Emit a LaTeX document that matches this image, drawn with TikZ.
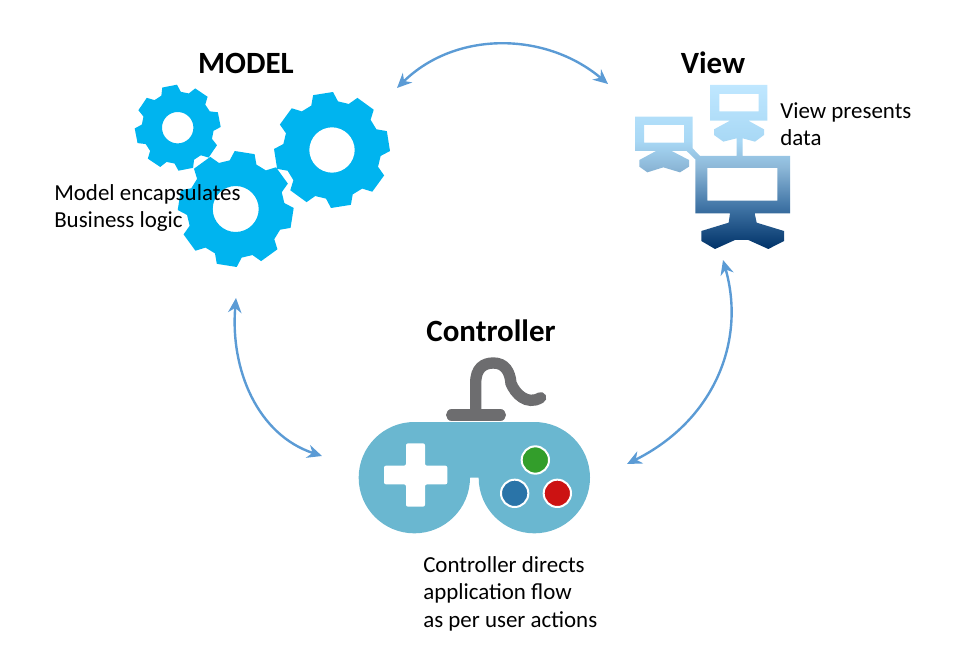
\documentclass[tikz,border=0pt]{standalone}
\usepackage{fontspec}
\setmainfont{Carlito}
\usetikzlibrary{arrows.meta}
\definecolor{gearblue}{HTML}{00B4EF}
\definecolor{arrowblue}{HTML}{5B9BD5}
\definecolor{padblue}{HTML}{6AB7D0}
\definecolor{cablegray}{HTML}{6D6D6F}
\definecolor{montop}{HTML}{BFE7FF}
\definecolor{monlight}{HTML}{A8D8F5}
\definecolor{monmid}{HTML}{8DB8D8}
\definecolor{mondeep}{HTML}{4175A6}
\definecolor{monbot}{HTML}{003268}
\definecolor{btngreen}{HTML}{339E2B}
\definecolor{btnblue}{HTML}{2A74A8}
\definecolor{btnred}{HTML}{CC1212}
\pgfdeclareverticalshading{monshade}{100bp}{color(0bp)=(monbot); color(25bp)=(monbot); color(38bp)=(mondeep); color(50bp)=(monmid); color(58bp)=(monlight); color(75bp)=(montop); color(100bp)=(montop)}
\tikzset{
  title/.style={font=\fontsize{23.2}{28}\selectfont\bfseries,inner sep=0pt},
  body/.style={font=\fontsize{17.2}{20.6}\selectfont,align=left,anchor=north west,inner sep=0pt},
  link/.style={draw=arrowblue,line width=1.8pt,{Stealth[length=11pt,width=10pt]}-{Stealth[length=11pt,width=10pt]}},
  padbutton/.style={draw=white,line width=1.5pt},
  cable/.style={draw=cablegray,line width=8.5pt,line cap=round}
}
\newcommand{\gearat}[6]{%
  \fill[gearblue,even odd rule]
    ({#1+#4*cos(#6-16)},{#2-#4*sin(#6-16)})
    \foreach \k in {0,...,7}{
      -- ({#1+#4*cos(#6+45*\k-16)},{#2-#4*sin(#6+45*\k-16)})
      -- ({#1+#3*cos(#6+45*\k-10)},{#2-#3*sin(#6+45*\k-10)})
      -- ({#1+#3*cos(#6+45*\k+10)},{#2-#3*sin(#6+45*\k+10)})
      -- ({#1+#4*cos(#6+45*\k+16)},{#2-#4*sin(#6+45*\k+16)})
    } -- cycle
    (#1,#2) circle[radius=#5];}
\begin{document}
\begin{tikzpicture}[x=0.75pt,y=-0.75pt]
\useasboundingbox (0,0) rectangle (956,648);
% gears
\gearat{177.7}{127.7}{43}{36}{15.7}{101}
\gearat{332}{150}{58}{49}{22.7}{99}
\gearat{235.7}{209}{58}{49}{23}{81}
% monitors
\begin{scope}[shift={(620,70)},x=0.25pt,y=-0.25pt]
\shade[shading=monshade,even odd rule]
  (270,45) rectangle (442,152) (298,72) rectangle (416,124)
  (330,152) -- (282,178) -- (282,195) -- (310,215) -- (350,205) -- (350,258) -- (368,258) -- (368,205) -- (405,215) -- (432,195) -- (432,178) -- (385,152) -- cycle
  (45,140) rectangle (218,243) (72,165) rectangle (192,218)
  (108,243) -- (58,270) -- (58,290) -- (82,307) -- (130,292) -- (180,307) -- (207,290) -- (207,270) -- (155,243) -- cycle
  (218,235) -- (240,258) -- (226,258) -- (226,268) -- (200,243) -- (218,243) -- cycle
  (226,258) rectangle (510,430) (262,294) rectangle (472,392)
  (330,430) -- (326,458) -- (244,483) -- (244,513) -- (285,537) -- (345,510) -- (385,510) -- (445,537) -- (492,513) -- (492,483) -- (410,458) -- (404,430) -- cycle;
\end{scope}
% controller
\begin{scope}[shift={(350,350)},x=0.25pt,y=-0.25pt]
\draw[cable] (377,195) -- (377,100) .. controls (377,55) and (400,39) .. (430,39) .. controls (465,39) and (480,65) .. (483,100) .. controls (495,130) and (530,168) .. (572,143);
\draw[cable] (305,195) -- (451,195);
\fill[padblue] (360,383) arc[start angle=0,end angle=270,radius=167] -- (553,216) arc[start angle=270,end angle=540,radius=167] -- (386,383) -- cycle;
\fill[white,rounded corners=1.5pt] (168,280) -- (225,280) -- (225,347) -- (292,347) -- (292,403) -- (225,403) -- (225,470) -- (168,470) -- (168,403) -- (102,403) -- (102,347) -- (168,347) -- cycle;
\draw[padbutton,fill=btngreen] (556,330) circle[radius=41];
\draw[padbutton,fill=btnblue] (494,430) circle[radius=41];
\draw[padbutton,fill=btnred] (622,430) circle[radius=41];
\end{scope}
% titles
\node[title] (model) at (246,63) {MODEL};
\node[title] (view) at (713,63) {View};
\node[title] (controller) at (491,331) {Controller};
% body text
\node[body] (modeltext) at (54,184) {Model encapsulates\\Business logic};
\node[body] (viewtext) at (780,102) {View presents\\data};
\node[body] (controllertext) at (423,556) {Controller directs\\application flow\\as per user actions};
% connectors
\coordinate (modelright) at (397,88);
\coordinate (viewleft) at (608,84);
\coordinate (modelbottom) at (236,298);
\coordinate (padleft) at (322,456);
\coordinate (viewbottom) at (723,260);
\coordinate (padright) at (627,464);
\draw[link] (modelright) .. controls (455,31) and (545,31) .. (viewleft);
\draw[link] (modelbottom) .. controls (230,370) and (258,435) .. (padleft);
\draw[link] (viewbottom) .. controls (746,340) and (715,420) .. (padright);
\end{tikzpicture}
\end{document}
